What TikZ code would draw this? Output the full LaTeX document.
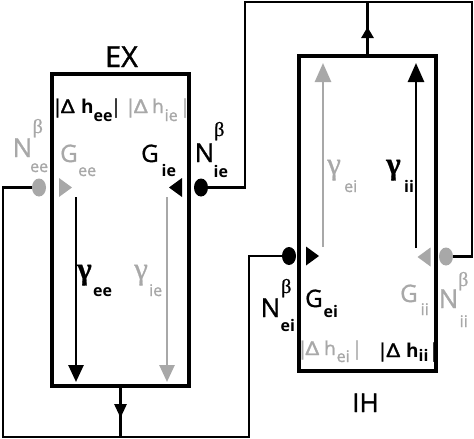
\documentclass[tikz,border=0pt]{standalone}
\usepackage{fontspec}
\usepackage{graphicx}
\setmainfont{Open Sans}
\newfontfamily\heavyfont[FakeBold=1.3]{Open Sans}
\newfontfamily\greekfont[FakeBold=0.8]{Liberation Serif}
\usetikzlibrary{shapes.geometric,arrows.meta}
\definecolor{lgray}{RGB}{168,168,168}
\newcommand{\wideDelta}{\scalebox{1.3}[1]{Δ}}
\tikzset{
  box/.style={draw, line width=3.1pt, minimum width=137pt, inner sep=0pt},
  conn/.style={line width=2.9pt},
  inarrow/.style={line width=2.7pt, -{Triangle[width=15pt,length=17pt]}},
  dot/.style={ellipse, fill, minimum width=14pt, minimum height=18pt, inner sep=0pt},
  txt/.style={inner sep=0pt, anchor=base west},
  fN/.style={font=\heavyfont\fontsize{26}{26}\selectfont},
  fG/.style={font=\heavyfont\fontsize{24}{24}\selectfont},
  fsub/.style={font=\heavyfont\fontsize{16}{16}\selectfont},
  fsubb/.style={font=\fontsize{16}{16}\selectfont\bfseries},
  fbeta/.style={font=\greekfont\fontsize{20}{20}\selectfont},
  fD/.style={font=\heavyfont\fontsize{19}{19}\selectfont},
  fDb/.style={font=\fontsize{19}{19}\selectfont\bfseries},
  fgam/.style={font=\greekfont\fontsize{31}{31}\selectfont},
  fgamb/.style={font=\greekfont\fontsize{31}{31}\selectfont\bfseries},
  bar/.style={inner sep=0pt, anchor=base, font=\heavyfont\fontsize{19}{19}\selectfont},
  trir/.pic={\fill (6.5,0) -- (-6.5,9.5) -- (-6.5,-9.5) -- cycle;},
  tril/.pic={\fill (-6.5,0) -- (6.5,9.5) -- (6.5,-9.5) -- cycle;}
}
\begin{document}
\begin{tikzpicture}[x=1pt,y=-1pt]
\useasboundingbox (0,0) rectangle (474,439);
% boxes
\node[box, minimum height=312pt] (ex) at (120.5,230) {};
\node[box, minimum height=315pt] (ih) at (367.5,213.5) {};
\node[inner sep=0pt, anchor=base, font=\heavyfont\fontsize{29}{29}\selectfont] (exlab) at (121.5,67) {EX};
\node[inner sep=0pt, anchor=base, font=\heavyfont\fontsize{26}{26}\selectfont] (ihlab) at (365.5,412) {IH};
% dots
\node[dot, lgray] (nee) at (39,187.5) {};
\node[dot] (nie) at (201,187.5) {};
\node[dot] (nei) at (289,256) {};
\node[dot, lgray] (nii) at (446,256.5) {};
% coordinates of the wiring
\coordinate (bl) at (3,437);
\coordinate (br) at (249,437);
\coordinate (tl) at (245,2);
\coordinate (tr) at (472,2);
\coordinate (exout) at (120.5,437);
\coordinate (exhead) at (120.5,418);
\coordinate (ihout) at (367.5,2);
\coordinate (ihhead) at (367.5,27);
% wiring
\draw[conn] (nee.west) -| (bl) -- (br) |- (nei.west);
\draw[conn] (nie.east) -| (tl) -- (tr) |- (nii.east);
\draw[conn] (ex.south) -- (exout);
\draw[conn, -{Triangle[width=12pt,length=14pt]}] (ex.south) -- (exhead);
\draw[conn] (ih.north) -- (ihout);
\draw[conn, -{Triangle[width=12pt,length=11pt]}] (ih.north) -- (ihhead);
% triangles
\pic[lgray] at (65.5,187.5) {trir};
\pic at (175.5,187.5) {tril};
\pic at (312.5,256) {trir};
\pic[lgray] at (424,257) {tril};
% inner arrows
\coordinate (ee1) at (76,197); \coordinate (ee2) at (76,382);
\coordinate (ie1) at (167,197); \coordinate (ie2) at (167,382);
\coordinate (ei1) at (323,247); \coordinate (ei2) at (323,63);
\coordinate (ii1) at (416,248); \coordinate (ii2) at (416,63);
\draw[inarrow] (ee1) -- (ee2);
\draw[inarrow, lgray] (ie1) -- (ie2);
\draw[inarrow, lgray, -{Triangle[width=16pt,length=19pt]}] (ei1) -- (ei2);
\draw[inarrow, -{Triangle[width=16pt,length=19pt]}] (ii1) -- (ii2);
% N labels
\node[txt, fN, lgray] (Nee) at (12.5,157) {N};
\node[txt, fbeta, lgray] (Neeb) at (32.5,133) {β};
\node[txt, fsub, lgray] (Nees) at (30,172) {ee};
\node[txt, fN] (Nie) at (194.5,162) {N};
\node[txt, fbeta] (Nieb) at (214,136) {β};
\node[txt, fsubb] (Nies) at (213.5,177) {ie};
\node[txt, fN] (Nei) at (260.5,317) {N};
\node[txt, fbeta] (Neib) at (281,293) {β};
\node[txt, fsubb] (Neis) at (280.5,331) {ei};
\node[txt, fN, lgray] (Nii) at (438.5,308) {N};
\node[txt, fbeta, lgray] (Niib) at (458,286) {β};
\node[txt, fsub, lgray] (Niis) at (459.5,327) {ii};
% G labels
\node[txt, fG, lgray] (Gee) at (60,162) {G};
\node[txt, fsub, lgray] (Gees) at (78,176) {ee};
\node[txt, fG] (Gie) at (141,162) {G};
\node[txt, fsubb] (Gies) at (161.5,176) {ie};
\node[txt, fG] (Gei) at (305,307) {G};
\node[txt, fsubb] (Geis) at (323.5,317) {ei};
\node[txt, fG, lgray] (Gii) at (400,302) {G};
\node[txt, fsub, lgray] (Giis) at (420.5,315) {ii};
% gamma labels
\node[txt, fgamb] (gee) at (77,279) {γ};
\node[txt, fsubb] (gees) at (93,296) {ee};
\node[txt, fgam, lgray] (gie) at (134,279) {γ};
\node[txt, fsub, lgray] (gies) at (149,296) {ie};
\node[txt, fgam, lgray] (gei) at (327,174) {γ};
\node[txt, fsub, lgray] (geis) at (344,192) {ei};
\node[txt, fgamb] (gii) at (386,174) {γ};
\node[txt, fsubb] (giis) at (404,192) {ii};
% |Delta h| labels
\node[bar] (hee1) at (57.5,113) {|};
\node[txt, fD] (heeD) at (60.5,113) {\wideDelta};
\node[txt, fDb] (heeh) at (81,113) {h};
\node[txt, fsubb] (hees) at (93.5,121) {ee};
\node[bar] (hee2) at (116,113) {|};
\node[bar, lgray] (hie1) at (130.5,113) {|};
\node[txt, fD, lgray] (hieD) at (133.5,113) {\wideDelta};
\node[txt, fD, lgray] (hieh) at (152,113) {h};
\node[txt, fsub, lgray] (hies) at (164.5,121) {ie};
\node[bar, lgray] (hie2) at (185,113) {|};
\node[bar, lgray] (hei1) at (302.5,355) {|};
\node[txt, fD, lgray] (heiD) at (305,355) {\wideDelta};
\node[txt, fD, lgray] (heih) at (324,355) {h};
\node[txt, fsub, lgray] (heis) at (336.5,362) {ei};
\node[bar, lgray] (hei2) at (357,355) {|};
\node[bar] (hii1) at (382.5,357) {|};
\node[txt, fD] (hiiD) at (386,357) {\wideDelta};
\node[txt, fDb] (hiih) at (406,357) {h};
\node[txt, fsubb] (hiis) at (418.5,361) {ii};
\node[bar] (hii2) at (434,357) {|};
\end{tikzpicture}
\end{document}
